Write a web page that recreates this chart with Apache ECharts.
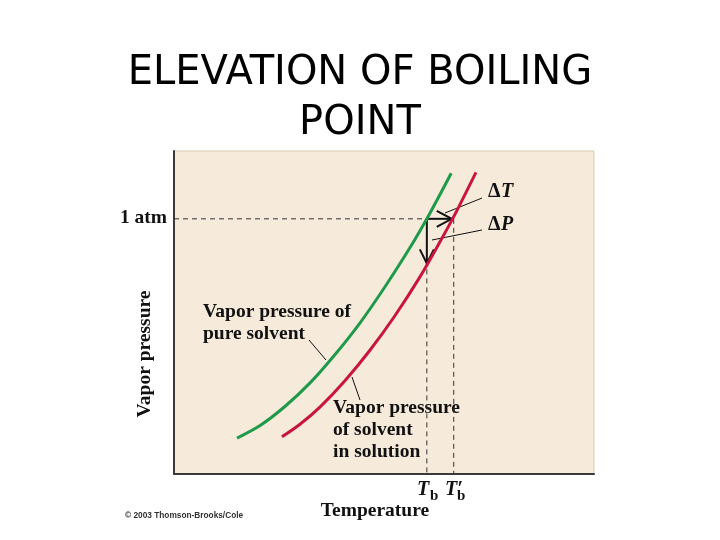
<!DOCTYPE html>
<html>
<head>
<meta charset="utf-8">
<script src="https://cdn.jsdelivr.net/npm/echarts@6/dist/echarts.min.js"></script>
<style>html,body{margin:0;padding:0;background:#fff}#c{width:720px;height:540px}</style>
</head>
<body>
<div id="c"></div>
<script>
// Temperature / vapour pressure in arbitrary units (0-100)
const tempPure   = [15.0, 20.5, 26.4, 32.4, 38.3, 44.3, 50.2, 56.2, 61.0, 66.0];
const pressPure  = [11.1, 15.0, 20.9, 28.2, 36.9, 46.8, 57.9, 70.1, 80.9, 93.1];
const tempSoln   = [25.7, 30.0, 34.8, 40.7, 46.7, 52.6, 58.6, 63.3, 66.7, 71.9];
const pressSoln  = [11.5, 15.4, 20.8, 28.9, 38.4, 49.0, 61.1, 71.8, 79.9, 93.4];
const pAtm = 79.0;       // 1 atm
const tb = 60.2;         // Tb
const tbPrime = 66.6;    // T'b
const pSolnAtTb = 65.2;  // end of ΔP arrow

const chart = echarts.init(document.getElementById('c'));
const serif = 'Liberation Serif, Times New Roman, serif';

function renderAnno(params, api) {
  const a = api.coord([0, pAtm]);
  const g = api.coord([tb, pAtm]);
  const r = api.coord([tbPrime, pAtm]);
  const pTip = api.coord([tb, pSolnAtTb]);
  const b0 = api.coord([tb, 0]);
  const b1 = api.coord([tbPrime, 0]);
  const dash = {stroke: '#333', lineWidth: 1, lineDash: [5, 4], fill: null};
  const solid = {stroke: '#111', lineWidth: 2, fill: null};
  return {
    type: 'group',
    children: [
      {type: 'line', shape: {x1: a[0], y1: a[1], x2: g[0], y2: g[1]}, style: dash},
      {type: 'line', shape: {x1: pTip[0], y1: pTip[1] + 6, x2: b0[0], y2: b0[1]}, style: dash},
      {type: 'line', shape: {x1: r[0], y1: r[1], x2: b1[0], y2: b1[1]}, style: dash},
      // ΔT arrow
      {type: 'line', shape: {x1: g[0], y1: g[1], x2: r[0] - 2, y2: r[1]}, style: solid},
      {type: 'polyline', shape: {points: [[r[0] - 17, r[1] - 8], [r[0] - 2, r[1]], [r[0] - 17, r[1] + 8]]}, style: solid},
      // ΔP arrow
      {type: 'line', shape: {x1: g[0], y1: g[1], x2: pTip[0], y2: pTip[1]}, style: solid},
      {type: 'polyline', shape: {points: [[pTip[0] - 7, pTip[1] - 14], [pTip[0], pTip[1]], [pTip[0] + 7, pTip[1] - 14]]}, style: solid}
    ]
  };
}

const leader = (x1, y1, x2, y2) => ({type: 'line', shape: {x1, y1, x2, y2}, style: {stroke: '#111', lineWidth: 1}});
const txt = (x, y, text, size, extra) => ({type: 'text', x, y, style: Object.assign({text, font: 'bold ' + size + 'px ' + serif, fill: '#111'}, extra || {})});
const ital = (x, y, text, size) => ({type: 'text', x, y, style: {text, font: 'italic bold ' + size + 'px ' + serif, fill: '#111', textVerticalAlign: 'middle'}});

chart.setOption({
  animation: false,
  backgroundColor: '#ffffff',
  grid: {left: 174, right: 126, top: 151, bottom: 66, show: true, backgroundColor: '#f6eadb', borderColor: '#d9c9b0', borderWidth: 1},
  xAxis: {type: 'value', min: 0, max: 100, axisLine: {show: true, onZero: false, lineStyle: {color: '#3a3a3a', width: 2}}, axisTick: {show: false}, axisLabel: {show: false}, splitLine: {show: false}},
  yAxis: {type: 'value', min: 0, max: 100, axisLine: {show: true, onZero: false, lineStyle: {color: '#3a3a3a', width: 2}}, axisTick: {show: false}, axisLabel: {show: false}, splitLine: {show: false}},
  series: [
    {type: 'line', name: 'Vapor pressure of pure solvent', data: tempPure.map((t, i) => [t, pressPure[i]]), smooth: 0.3, showSymbol: false, lineStyle: {color: '#1f9a4a', width: 3}},
    {type: 'line', name: 'Vapor pressure of solvent in solution', data: tempSoln.map((t, i) => [t, pressSoln[i]]), smooth: 0.3, showSymbol: false, lineStyle: {color: '#c8163f', width: 3}},
    {type: 'custom', data: [[tb, pAtm]], renderItem: renderAnno, silent: true, z: 3}
  ],
  graphic: [
    {type: 'text', x: 360, y: 74, style: {text: 'ELEVATION OF BOILING', font: '40px DejaVu Sans', fill: '#000', textAlign: 'center', textVerticalAlign: 'middle'}},
    {type: 'text', x: 360, y: 124, style: {text: 'POINT', font: '40px DejaVu Sans', fill: '#000', textAlign: 'center', textVerticalAlign: 'middle'}},
    txt(167, 218, '1 atm', 19.5, {textAlign: 'right', textVerticalAlign: 'middle'}),
    {type: 'text', x: 145, y: 354, rotation: Math.PI / 2, style: {text: 'Vapor pressure', font: 'bold 19.5px ' + serif, fill: '#111', textAlign: 'center', textVerticalAlign: 'middle'}},
    txt(375, 511, 'Temperature', 19.5, {textAlign: 'center', textVerticalAlign: 'middle'}),
    txt(203, 301, 'Vapor pressure of\npure solvent', 19.5, {textVerticalAlign: 'top', lineHeight: 22}),
    txt(333, 397, 'Vapor pressure\nof solvent\nin solution', 19.5, {textVerticalAlign: 'top', lineHeight: 22}),
    txt(488, 192, 'Δ', 20, {textVerticalAlign: 'middle'}),
    ital(501, 192, 'T', 20),
    txt(488, 225, 'Δ', 20, {textVerticalAlign: 'middle'}),
    ital(501, 225, 'P', 20),
    ital(417, 490, 'T', 20),
    txt(430, 496, 'b', 15, {textVerticalAlign: 'middle'}),
    ital(445, 490, 'T′', 20),
    txt(457, 496, 'b', 15, {textVerticalAlign: 'middle'}),
    leader(482, 198, 445, 213),
    leader(482, 230, 432, 240),
    leader(309, 340, 326, 360),
    leader(352, 377, 360, 400),
    {type: 'text', x: 125, y: 516, style: {text: '© 2003 Thomson-Brooks/Cole', font: 'bold 8.3px Liberation Sans', fill: '#333', textVerticalAlign: 'middle'}}
  ]
});
</script>
</body>
</html>
